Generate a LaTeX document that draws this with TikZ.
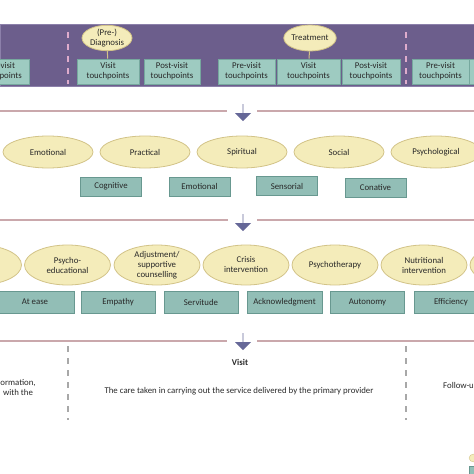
\documentclass[tikz,border=0pt]{standalone}
\usepackage{fontspec}
\setmainfont{Carlito}
\usetikzlibrary{shapes.geometric, shapes.arrows}
\definecolor{bandviolet}{RGB}{108,94,140}
\definecolor{bandedge}{RGB}{140,128,170}
\definecolor{touchfill}{RGB}{158,203,193}
\definecolor{touchline}{RGB}{118,168,158}
\definecolor{qualfill}{RGB}{146,190,182}
\definecolor{qualline}{RGB}{104,152,144}
\definecolor{creamfill}{RGB}{244,236,186}
\definecolor{creamline}{RGB}{210,195,136}
\definecolor{rulerose}{RGB}{202,168,172}
\definecolor{arrowblue}{RGB}{102,104,152}
\definecolor{dashpink}{RGB}{222,172,204}
\definecolor{dashgray}{RGB}{168,168,168}
\definecolor{inktext}{RGB}{40,40,40}
\tikzstyle{band} = [rectangle, minimum width=474pt, minimum height=62pt, inner sep=0pt, draw=bandedge, fill=bandviolet]
\tikzstyle{touch} = [rectangle, minimum width=57pt, minimum height=25pt, inner sep=0pt, align=center, draw=touchline, line width=0.8pt, fill=touchfill, text=inktext]
\tikzstyle{stage} = [ellipse, minimum width=50pt, minimum height=24pt, inner sep=0pt, align=center, draw=creamline, line width=0.8pt, fill=creamfill, text=inktext]
\tikzstyle{need} = [ellipse, minimum width=90pt, minimum height=32pt, inner sep=0pt, align=center, draw=creamline, line width=0.8pt, fill=creamfill, text=inktext]
\tikzstyle{service} = [ellipse, minimum width=86pt, minimum height=40pt, inner sep=0pt, align=center, draw=creamline, line width=0.8pt, fill=creamfill, text=inktext]
\tikzstyle{quality} = [rectangle, minimum width=61pt, minimum height=19pt, inner sep=0pt, align=center, draw=qualline, line width=0.8pt, fill=qualfill, text=inktext]
\tikzstyle{stem} = [line width=1pt, draw=creamline]
\tikzstyle{rule} = [line width=2.5pt, draw=rulerose]
\tikzstyle{downarrow} = [single arrow, shape border rotate=270, minimum height=17pt, minimum width=16pt, single arrow head extend=4pt, inner sep=0pt, fill=arrowblue]
\tikzstyle{divider} = [line width=2pt, dash pattern=on 6pt off 6pt]
\tikzstyle{note} = [text=inktext, align=center, inner sep=0pt]

\begin{document}
\begin{tikzpicture}[x=1pt, y=1pt, yscale=-1, font=\fontsize{8.8}{10}\selectfont]
\useasboundingbox (0,0) rectangle (474,474);
\clip (0,0) rectangle (474,474);

% phases band
\node at (237, 55) (phase) [band] {};
\draw [divider, draw=dashpink] (68, 32) -- (68, 84);
\draw [divider, draw=dashpink] (406, 32) -- (406, 84);

\node at (0.5, 71.5) (pre0) [touch] {Pre-visit\\touchpoints};
\node at (108, 71.5) (visit1) [touch, minimum width=62pt] {Visit\\touchpoints};
\node at (172, 71.5) (post1) [touch, minimum width=56pt] {Post-visit\\touchpoints};
\node at (246.5, 71.5) (pre1) [touch] {Pre-visit\\touchpoints};
\node at (308.5, 71.5) (visit2) [touch, minimum width=63pt] {Visit\\touchpoints};
\node at (371, 71.5) (post2) [touch, minimum width=58pt] {Post-visit\\touchpoints};
\node at (440.5, 71.5) (pre2) [touch] {Pre-visit\\touchpoints};
\node at (500, 71.5) (visit3) [touch, minimum width=62pt] {};

\node at (107, 38) (diag) [stage] {(Pre-)\\Diagnosis};
\node at (310, 38) (treat) [stage, minimum width=51pt, minimum height=26pt] {Treatment};
\draw [stem] (diag) -- (visit1);
\draw [stem] (treat) -- (visit2);

% first rule
\node at (243, 112.5) (down1) [downarrow] {};
\coordinate (r1a) at (0, 111);
\coordinate (r1b) at (227, 111);
\coordinate (r1c) at (257, 111);
\coordinate (r1d) at (474, 111);
\draw [rule] (r1a) -- (r1b);
\draw [rule] (r1c) -- (r1d);

% needs
\node at (48, 152) (emo) [need] {Emotional};
\node at (145, 152) (prac) [need] {Practical};
\node at (242, 152) (spir) [need] {Spiritual};
\node at (339, 152) (soc) [need] {Social};
\node at (436, 152) (psy) [need] {Psychological};

\node at (111, 186.5) (cogn) [quality] {Cognitive};
\node at (199.5, 186.5) (emo2) [quality] {Emotional};
\node at (287, 186) (sens) [quality] {Sensorial};
\node at (375.5, 187.5) (conat) [quality] {Conative};

% second rule
\node at (243, 222.5) (down2) [downarrow] {};
\coordinate (r2a) at (0, 220);
\coordinate (r2b) at (228, 220);
\coordinate (r2c) at (257, 220);
\coordinate (r2d) at (474, 220);
\draw [rule] (r2a) -- (r2b);
\draw [rule] (r2c) -- (r2d);

% services
\node at (-21.5, 265) (serv0) [service] {};
\node at (67.5, 265) (psyedu) [service] {Psycho-\\educational};
\node at (157, 265) (adjust) [service] {Adjustment/\\supportive\\counselling};
\node at (246, 265) (crisis) [service] {Crisis\\intervention};
\node at (335, 265) (therapy) [service] {Psychotherapy};
\node at (424, 265) (nutri) [service] {Nutritional\\intervention};
\node at (513, 265) (serv7) [service] {};

\node at (35, 302) (ease) [quality, minimum width=78pt, minimum height=22pt] {At ease};
\node at (118, 302) (empathy) [quality, minimum width=74pt, minimum height=22pt] {Empathy};
\node at (201, 302) (servit) [quality, minimum width=74pt, minimum height=22pt] {Servitude};
\node at (284.5, 302) (ackn) [quality, minimum width=75pt, minimum height=22pt] {Acknowledgment};
\node at (367.5, 302) (auton) [quality, minimum width=74pt, minimum height=22pt] {Autonomy};
\node at (451, 302) (effic) [quality, minimum width=74pt, minimum height=22pt] {Efficiency};

% third rule
\node at (243, 341.5) (down3) [downarrow] {};
\coordinate (r3a) at (0, 341);
\coordinate (r3b) at (227, 341);
\coordinate (r3c) at (257, 341);
\coordinate (r3d) at (474, 341);
\draw [rule] (r3a) -- (r3b);
\draw [rule] (r3c) -- (r3d);

\draw [divider, draw=dashgray] (68, 346) -- (68, 420);
\draw [divider, draw=dashgray] (406, 346) -- (406, 420);

\node at (240, 362) (visitlbl) [note] {\bfseries Visit};
\node at (239, 391) (care) [note] {The care taken in carrying out the service delivered by the primary provider};
\node at (18, 387) (prelbl) [note] {ormation,\\with the};
\node at (443, 385) (follow) [note, anchor=west] {Follow-u};

% legend
\node at (474, 458) (keyneed) [ellipse, minimum width=10pt, minimum height=8pt, inner sep=0pt, draw=creamline, fill=creamfill] {};
\node at (474, 470) (keyqual) [rectangle, minimum width=10pt, minimum height=8pt, inner sep=0pt, draw=qualline, fill=qualfill] {};

\end{tikzpicture}
\end{document}
